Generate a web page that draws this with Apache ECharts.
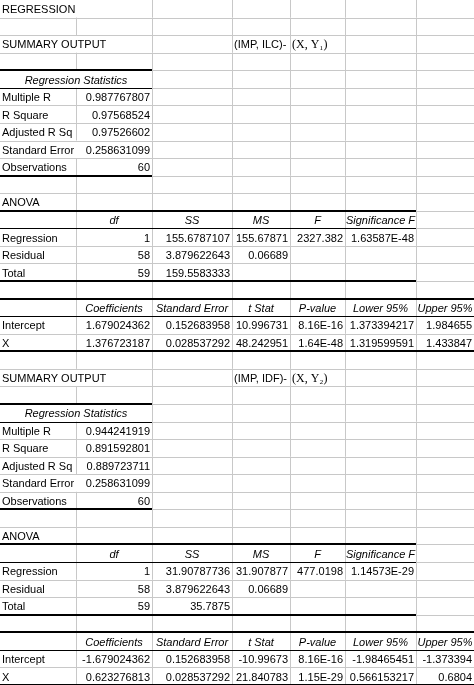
<!DOCTYPE html>
<html><head><meta charset="utf-8">
<script src="https://cdn.jsdelivr.net/npm/echarts@6/dist/echarts.min.js"></script>
<style>html,body{margin:0;padding:0;background:#fff}#c{width:474px;height:685px}</style>
</head><body><div id="c"></div>
<script>
// ---- data (cell contents, row by row) ----
const title = ["REGRESSION"];
const summary1 = ["SUMMARY OUTPUT", "(IMP, ILC)-", "(X, Y\u2081)"];
const summary2 = ["SUMMARY OUTPUT", "(IMP, IDF)-", "(X, Y\u2082)"];
const regStatLabels = ["Multiple R", "R Square", "Adjusted R Sq", "Standard Error", "Observations"];
const regStat1 = ["0.987767807", "0.97568524", "0.97526602", "0.258631099", "60"];
const regStat2 = ["0.944241919", "0.891592801", "0.889723711", "0.258631099", "60"];
const anovaHead = ["", "df", "SS", "MS", "F", "Significance F"];
const anovaLabels = ["Regression", "Residual", "Total"];
const anova1 = [["1","155.6787107","155.67871","2327.382","1.63587E-48"],["58","3.879622643","0.06689","",""],["59","159.5583333","","",""]];
const anova2 = [["1","31.90787736","31.907877","477.0198","1.14573E-29"],["58","3.879622643","0.06689","",""],["59","35.7875","","",""]];
const coefHead = ["", "Coefficients", "Standard Error", "t Stat", "P-value", "Lower 95%", "Upper 95%"];
const coefLabels = ["Intercept", "X"];
const coef1 = [["1.679024362","0.152683958","10.996731","8.16E-16","1.373394217","1.984655"],["1.376723187","0.028537292","48.242951","1.64E-48","1.319599591","1.433847"]];
const coef2 = [["-1.679024362","0.152683958","-10.99673","8.16E-16","-1.98465451","-1.373394"],["0.623276813","0.028537292","21.840783","1.15E-29","0.566153217","0.6804"]];

// ---- layout ----
const colEdges = [0, 76, 152, 232, 290, 345, 416, 474];
const NROWS = 39;
const cells = []; // [row, col, text, align, style]
const rules = []; // [row(after line y index), c0, c1, width]
let r = 0;
function blank(){ r++; }
cells.push([r,0,title[0],'left','']); r++; blank();
function block(summary, stats, anova, coef){
  cells.push([r,0,summary[0],'left','']);
  cells.push([r,3,summary[1],'left','']);
  cells.push([r,4,summary[2],'left','serif']); r++; blank();
  rules.push([r,0,2,2]);
  cells.push([r,0,"Regression Statistics",'span2','italic']); r++;
  rules.push([r,0,2,1]);
  regStatLabels.forEach((l,i)=>{ cells.push([r,0,l,'left','']); cells.push([r,1,stats[i],'right','']); r++; });
  rules.push([r,0,2,2]); blank();
  cells.push([r,0,"ANOVA",'left','']); r++;
  rules.push([r,0,6,2]);
  anovaHead.forEach((h,i)=>{ if(h) cells.push([r,i,h,'center','italic']); }); r++;
  rules.push([r,0,6,1]);
  anovaLabels.forEach((l,i)=>{ cells.push([r,0,l,'left','']); anova[i].forEach((v,j)=>{ if(v) cells.push([r,j+1,v,'right','']); }); r++; });
  rules.push([r,0,6,2]); blank();
  rules.push([r,0,7,2]);
  coefHead.forEach((h,i)=>{ if(h) cells.push([r,i,h,'center','italic']); }); r++;
  rules.push([r,0,7,1]);
  coefLabels.forEach((l,i)=>{ cells.push([r,0,l,'left','']); coef[i].forEach((v,j)=>cells.push([r,j+1,v,'right',''])); r++; });
  rules.push([r,0,7,2]);
}
block(summary1, regStat1, anova1, coef1); blank();
block(summary2, regStat2, anova2, coef2);

// overflow detection to suppress gridlines
const cv = document.createElement('canvas').getContext('2d');
cv.font = '11px "Liberation Sans"';
const suppress = {}; // key "row,edgeIndex"
cells.forEach(c=>{
  if(c[3]==='left'){
    const w = cv.measureText(c[2]).width + 4;
    let e = c[1]+1;
    while(e < colEdges.length-1 && colEdges[c[1]]+w > colEdges[e]){ suppress[c[0]+','+e]=1; e++; }
  }
  if(c[3]==='span2') suppress[c[0]+','+(c[1]+1)]=1;
});

const chart = echarts.init(document.getElementById('c'), null, {renderer:'canvas'});
const rh = 685/NROWS;
chart.setOption({
  animation:false,
  grid:{left:0,right:0,top:0,bottom:0},
  xAxis:{type:'value',min:0,max:474,show:false},
  yAxis:{type:'value',min:0,max:NROWS,inverse:true,show:false},
  series:[
    { // gridlines
      type:'custom', silent:true, data:[0],
      renderItem:(p,api)=>{
        const ch=[];
        for(let i=1;i<=NROWS;i++){
          const y=Math.round(api.coord([0,i])[1])+0.5;
          ch.push({type:'line',shape:{x1:0,y1:y,x2:474,y2:y},style:{stroke:'#c8c8c8',lineWidth:1}});
        }
        for(let i=0;i<NROWS;i++){
          for(let e=1;e<colEdges.length-1;e++){
            if(suppress[i+','+e]) continue;
            const x=Math.round(api.coord([colEdges[e],0])[0])+0.5;
            ch.push({type:'line',shape:{x1:x,y1:api.coord([0,i])[1],x2:x,y2:api.coord([0,i+1])[1]},style:{stroke:'#c8c8c8',lineWidth:1}});
          }
        }
        return {type:'group',children:ch};
      }
    },
    { // borders
      type:'custom', silent:true, data:rules,
      renderItem:(p,api)=>{
        const d=rules[p.dataIndex];
        const a=api.coord([colEdges[d[1]],d[0]]), b=api.coord([colEdges[d[2]],d[0]]);
        const y=Math.round(a[1])+(d[3]===1?0.5:0);
        return {type:'line',shape:{x1:a[0],y1:y,x2:b[0],y2:y},style:{stroke:'#000',lineWidth:d[3]}};
      }
    },
    { // cell texts
      type:'custom', silent:true, data:cells,
      renderItem:(p,api)=>{
        const c=cells[p.dataIndex];
        const x0=colEdges[c[1]], x1=colEdges[c[3]==='span2'?c[1]+2:c[1]+1];
        let x, align;
        if(c[3]==='left'){x=x0+2;align='left';}
        else if(c[3]==='right'){x=x1-2;align='right';}
        else {x=(x0+x1)/2;align='center';}
        const pt=api.coord([x,c[0]+0.58]);
        return {type:'text',x:pt[0],y:pt[1],style:{text:c[2],fill:'#000',align:align,verticalAlign:'middle',
          font:(c[4]==='italic'?'italic ':'')+(c[4]==='serif'?'12px "Liberation Serif"':'11px "Liberation Sans"')}};
      }
    }
  ]
});
</script></body></html>
